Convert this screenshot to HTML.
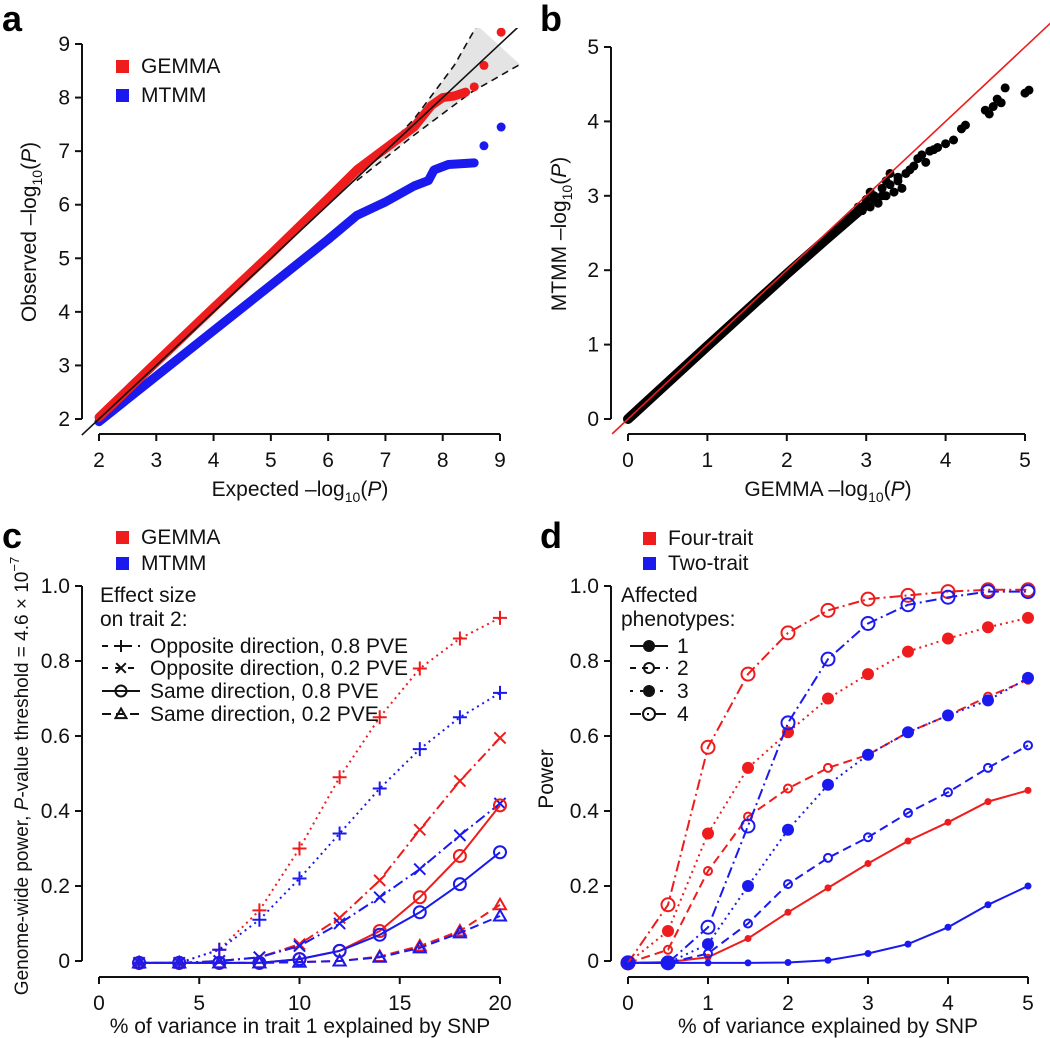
<!DOCTYPE html>
<html><head><meta charset="utf-8"><style>
html,body{margin:0;padding:0;background:#fff}
svg{display:block;font-family:"Liberation Sans",sans-serif}
</style></head><body>
<svg id="fig" width="1050" height="1038" viewBox="0 0 1050 1038" xmlns="http://www.w3.org/2000/svg">
<defs>
<clipPath id="clipA"><rect x="80" y="28" width="440" height="410"/></clipPath>
<clipPath id="clipB"><rect x="608" y="20" width="442" height="420"/></clipPath>
</defs>
<g font-weight="bold" font-size="36" fill="#000">
<text x="2" y="31">a</text>
<text x="540" y="31">b</text>
<text x="2" y="548">c</text>
<text x="540" y="548">d</text>
</g>
<g id="gA"></g>
<g id="gB"></g>
<g id="gC"></g>
<g id="gD"></g>
</svg>
<script>
// ---------- Panel A data ----------
const aGemmaX = [2,3,4,5,6,6.5,7,7.5,7.8,8.0,8.2,8.4];
const aGemmaY = [2.03,3.06,4.08,5.08,6.12,6.65,7.05,7.45,7.85,8.0,8.03,8.1];
const aGemmaTailX = [8.55,8.72,9.02];
const aGemmaTailY = [8.2,8.6,9.22];
const aMtmmX = [2,3,4,5,6,6.5,7,7.5,7.75,7.85,8.1,8.55];
const aMtmmY = [1.95,2.8,3.65,4.5,5.35,5.8,6.05,6.35,6.45,6.65,6.75,6.78];
const aMtmmTailX = [8.72,9.02];
const aMtmmTailY = [7.1,7.45];
const aTicksX = [2,3,4,5,6,7,8,9];
const aTicksY = [2,3,4,5,6,7,8,9];
const aCiUpperX = [6.5,7.5,8.2,8.6];
const aCiUpperY = [6.5,7.6,8.6,9.35];
const aCiLowerX = [6.5,7.5,8.5,9.35];
const aCiLowerY = [6.45,7.3,8.1,8.62];
// ---------- Panel B data ----------
const bLineX = [0,1,2,2.5,3];
const bLineY = [0,0.98,1.95,2.42,2.88];
const bPtsX = [2.9,2.95,3.0,3.05,3.1,3.15,3.2,3.25,3.3,3.35,3.4,3.45,3.5,3.6,3.7,3.75,3.8,3.9,4.0,4.1,4.2,4.25,4.5,4.55,4.6,4.65,4.7,4.75,5.0,5.05,3.55,3.65,3.85,3.1,3.25,3.4,3.05,3.2,3.3];
const bPtsY = [2.85,2.8,2.95,2.85,3.0,2.9,3.1,3.0,3.15,3.05,3.2,3.1,3.3,3.4,3.55,3.45,3.6,3.65,3.7,3.75,3.9,3.95,4.15,4.1,4.2,4.3,4.25,4.45,4.38,4.42,3.35,3.5,3.62,2.95,3.2,3.25,3.05,3.0,3.3];
const bTicks = [0,1,2,3,4,5];
// ---------- Panel C data ----------
const cX = [2,4,6,8,10,12,14,16,18,20];
const cRedPlus = [-0.005,-0.005,0.03,0.135,0.30,0.49,0.65,0.78,0.86,0.915];
const cBluePlus = [-0.005,-0.005,0.03,0.11,0.22,0.34,0.46,0.565,0.65,0.715];
const cRedCross = [-0.005,-0.005,0,0.01,0.045,0.115,0.215,0.35,0.48,0.595];
const cBlueCross = [-0.005,-0.005,0,0.01,0.04,0.10,0.17,0.245,0.335,0.42];
const cRedCircle = [-0.005,-0.005,-0.005,-0.005,0.005,0.027,0.08,0.17,0.28,0.415];
const cBlueCircle = [-0.005,-0.005,-0.005,-0.005,0.005,0.027,0.07,0.13,0.205,0.29];
const cRedTri = [-0.005,-0.005,-0.005,-0.005,-0.003,0,0.012,0.04,0.08,0.15];
const cBlueTri = [-0.005,-0.005,-0.005,-0.005,-0.003,0,0.01,0.035,0.075,0.12];
const cTicksX = [0,5,10,15,20];
const cTicksY = [0,0.2,0.4,0.6,0.8,1.0];
const cTickLabelsY = ['0','0.2','0.4','0.6','0.8','1.0'];
// ---------- Panel D data ----------
const dX = [0,0.5,1,1.5,2,2.5,3,3.5,4,4.5,5];
const dRed1 = [-0.005,-0.003,0.01,0.06,0.13,0.195,0.26,0.32,0.37,0.425,0.455];
const dBlue1 = [-0.005,-0.005,-0.005,-0.005,-0.004,0.002,0.02,0.045,0.09,0.15,0.2];
const dRed2 = [-0.005,0.03,0.24,0.385,0.46,0.515,0.55,0.61,0.655,0.705,0.75];
const dBlue2 = [-0.005,-0.005,0.02,0.10,0.205,0.275,0.33,0.395,0.45,0.515,0.575];
const dRed3 = [-0.005,0.08,0.34,0.515,0.61,0.70,0.765,0.825,0.86,0.89,0.915];
const dBlue3 = [-0.005,-0.005,0.045,0.20,0.35,0.47,0.55,0.61,0.655,0.695,0.755];
const dRed4 = [-0.005,0.15,0.57,0.765,0.875,0.935,0.965,0.975,0.985,0.99,0.99];
const dBlue4 = [-0.005,-0.005,0.09,0.36,0.635,0.805,0.90,0.95,0.97,0.985,0.985];
const dTicksX = [0,1,2,3,4,5];

const NS = 'http://www.w3.org/2000/svg';
const RED = '#ee1c1c', BLUE = '#1a1aee';
function mk(parent, tag, attrs) {
  const e = document.createElementNS(NS, tag);
  for (const k in attrs) e.setAttribute(k, attrs[k]);
  parent.appendChild(e);
  return e;
}
function lin(d0, d1, r0, r1) { return v => r0 + (v - d0) * (r1 - r0) / (d1 - d0); }
function pathFrom(xs, ys, sx, sy) {
  return xs.map((x, i) => (i ? 'L' : 'M') + sx(x).toFixed(1) + ',' + sy(ys[i]).toFixed(1)).join(' ');
}
function txt(parent, x, y, s, anchor, size) {
  const t = mk(parent, 'text', {x: x, y: y, 'font-size': size || 20, 'text-anchor': anchor || 'start', fill: '#111'});
  t.textContent = s;
  return t;
}
function axes(g, sx, sy, xTicks, yTicks, yLabels, xAxisY, yAxisX, xr, yr) {
  const ax = mk(g, 'g', {stroke: '#111', 'stroke-width': 2, fill: 'none'});
  
  
  mk(ax, 'line', {x1: sx(xr[0]), y1: xAxisY, x2: sx(xr[1]), y2: xAxisY});
  mk(ax, 'line', {x1: yAxisX, y1: sy(yr[0]), x2: yAxisX, y2: sy(yr[1])});
  xTicks.forEach(v => {
    mk(ax, 'line', {x1: sx(v), y1: xAxisY, x2: sx(v), y2: xAxisY + 7});
    const t = txt(g, sx(v), xAxisY + 33, String(v), 'middle', 21);
    
    
  });
  yTicks.forEach((v, i) => {
    mk(ax, 'line', {x1: yAxisX, y1: sy(v), x2: yAxisX - 7, y2: sy(v)});
    const t = txt(g, yAxisX - 12, sy(v) + 7, yLabels ? yLabels[i] : String(v), 'end', 21);
    
    
  });
}
function rotTitle(g, x, y, build, size) {
  const t = mk(g, 'text', {transform: 'translate(' + x + ',' + y + ') rotate(-90)', 'text-anchor': 'middle', 'font-size': size || 21, fill: '#111'});
  build(t);
  return t;
}
function span(t, s, attrs) { const e = mk(t, 'tspan', attrs || {}); e.textContent = s; return e; }
function logTitle(t, prefix) {
  span(t, prefix + '\u2013log');
  span(t, '10', {'font-size': 14, dy: 6});
  span(t, '(', {dy: -6});
  span(t, 'P', {'font-style': 'italic'});
  span(t, ')');
}
function legendSquare(g, x, y, color, label) {
  mk(g, 'rect', {x: x, y: y - 13, width: 13, height: 13, fill: color});
  txt(g, x + 25, y, label, 'start', 21);
}

// ================= Panel A =================
(function () {
  const g = document.getElementById('gA');
  const sx = lin(2, 9, 99, 500), sy = lin(2, 9, 419, 44);
  const clip = mk(g, 'g', {'clip-path': 'url(#clipA)'});
  const band = mk(clip, 'path', {d: pathFrom(aCiUpperX.concat(aCiLowerX.slice().reverse()), aCiUpperY.concat(aCiLowerY.slice().reverse()), sx, sy) + ' L' + sx(9.35) + ',' + sy(9.35) + ' Z', fill: '#e4e4e4', stroke: 'none'});
  
  
  [[aCiUpperX, aCiUpperY], [aCiLowerX, aCiLowerY]].forEach(p => {
    const l = mk(clip, 'path', {d: pathFrom(p[0], p[1], sx, sy), fill: 'none', stroke: '#111', 'stroke-width': 1.6, 'stroke-dasharray': '7,5'});
    
    
  });
  const blue = mk(clip, 'path', {d: pathFrom(aMtmmX, aMtmmY, sx, sy), fill: 'none', stroke: BLUE, 'stroke-width': 9, 'stroke-linecap': 'round', 'stroke-linejoin': 'round'});
  
  
  aMtmmTailX.forEach((x, i) => {
    const c = mk(clip, 'circle', {cx: sx(x), cy: sy(aMtmmTailY[i]), r: 4.5, fill: BLUE});
    
    
  });
  const red = mk(clip, 'path', {d: pathFrom(aGemmaX, aGemmaY, sx, sy), fill: 'none', stroke: RED, 'stroke-width': 9, 'stroke-linecap': 'round', 'stroke-linejoin': 'round'});
  
  
  aGemmaTailX.forEach((x, i) => {
    const c = mk(clip, 'circle', {cx: sx(x), cy: sy(aGemmaTailY[i]), r: 4.5, fill: RED});
    
    
  });
  const diag = mk(clip, 'line', {x1: sx(1.7), y1: sy(1.7), x2: sx(9.5), y2: sy(9.5), stroke: '#111', 'stroke-width': 1.6});
  
  
  axes(g, sx, sy, aTicksX, aTicksY, null, 434, 82, [2, 9], [2, 9]);
  const lg = mk(g, 'g', {});
  
  
  legendSquare(lg, 116, 73, RED, 'GEMMA');
  legendSquare(lg, 116, 102, BLUE, 'MTMM');
  const xt = mk(g, 'text', {x: 300, y: 496, 'text-anchor': 'middle', 'font-size': 21, fill: '#111'});
  logTitle(xt, 'Expected ');
  
  
  const yt = rotTitle(g, 36, 232, t => logTitle(t, 'Observed '));
  
  
})();

// ================= Panel B =================
(function () {
  const g = document.getElementById('gB');
  const sx = lin(0, 5, 628, 1025), sy = lin(0, 5, 419, 47);
  const clip = mk(g, 'g', {'clip-path': 'url(#clipB)'});
  const band = mk(clip, 'path', {d: pathFrom(bLineX, bLineY, sx, sy), fill: 'none', stroke: '#000', 'stroke-width': 10, 'stroke-linecap': 'round', 'stroke-linejoin': 'round'});
  
  
  bPtsX.forEach((x, i) => {
    const c = mk(clip, 'circle', {cx: sx(x), cy: sy(bPtsY[i]), r: 4.5, fill: '#000'});
    
    
  });
  const l = mk(clip, 'line', {x1: sx(-0.2), y1: sy(-0.2), x2: sx(5.4), y2: sy(5.4), stroke: RED, 'stroke-width': 1.6});
  
  
  axes(g, sx, sy, bTicks, bTicks, null, 434, 611, [0, 5], [0, 5]);
  const xt = mk(g, 'text', {x: 828, y: 496, 'text-anchor': 'middle', 'font-size': 21, fill: '#111'});
  logTitle(xt, 'GEMMA ');
  
  
  const yt = rotTitle(g, 566, 234, t => logTitle(t, 'MTMM '));
  
  
})();

// ---------- marker drawing ----------
function marker(g, type, x, y, color, size) {
  const s = size;
  if (type === 'plus') {
    mk(g, 'path', {d: `M${x - s},${y}H${x + s}M${x},${y - s}V${y + s}`, stroke: color, 'stroke-width': 2, fill: 'none'});
  } else if (type === 'cross') {
    const k = s * 0.8;
    mk(g, 'path', {d: `M${x - k},${y - k}L${x + k},${y + k}M${x - k},${y + k}L${x + k},${y - k}`, stroke: color, 'stroke-width': 2, fill: 'none'});
  } else if (type === 'circle') {
    mk(g, 'circle', {cx: x, cy: y, r: s, stroke: color, 'stroke-width': 2, fill: 'none'});
  } else if (type === 'tri') {
    mk(g, 'path', {d: `M${x},${y - s}L${x + s},${y + s * 0.75}L${x - s},${y + s * 0.75}Z`, stroke: color, 'stroke-width': 2, fill: 'none'});
  } else if (type === 'dot') {
    mk(g, 'circle', {cx: x, cy: y, r: s, fill: color});
  }
}
function series(g, name, xs, ys, sx, sy, color, dash, mtype, msize) {
  const sg = mk(g, 'g', {});
  
  
  mk(sg, 'path', {d: pathFrom(xs, ys, sx, sy), fill: 'none', stroke: color, 'stroke-width': 2, 'stroke-dasharray': dash});
  xs.forEach((x, i) => marker(sg, mtype, sx(x), sy(ys[i]), color, msize));
}
const DOT = '2,4', DASH = '9,5', DASHDOT = '11,4,2,4', SOLID = 'none';
function legendLine(g, x, y, dash, mtype, msize, label, tx) {
  const lg = mk(g, 'g', {});
  
  
  mk(lg, 'line', {x1: x, y1: y, x2: x + 38, y2: y, stroke: '#111', 'stroke-width': 2, 'stroke-dasharray': dash});
  marker(lg, mtype, x + 19, y, '#111', msize);
  txt(lg, tx, y + 7, label, 'start', 21);
}

// ================= Panel C =================
(function () {
  const g = document.getElementById('gC');
  const sx = lin(0, 20, 99, 500), sy = lin(0, 1, 961, 586);
  axes(g, sx, sy, cTicksX, cTicksY, cTickLabelsY, 977, 82, [0, 20], [0, 1]);
  series(g, 'series-red-plus', cX, cRedPlus, sx, sy, RED, DOT, 'plus', 7);
  series(g, 'series-blue-plus', cX, cBluePlus, sx, sy, BLUE, DOT, 'plus', 7);
  series(g, 'series-red-cross', cX, cRedCross, sx, sy, RED, DASHDOT, 'cross', 7);
  series(g, 'series-blue-cross', cX, cBlueCross, sx, sy, BLUE, DASHDOT, 'cross', 7);
  series(g, 'series-red-circle', cX, cRedCircle, sx, sy, RED, SOLID, 'circle', 6);
  series(g, 'series-blue-circle', cX, cBlueCircle, sx, sy, BLUE, SOLID, 'circle', 6);
  series(g, 'series-red-triangle', cX, cRedTri, sx, sy, RED, DASH, 'tri', 6);
  series(g, 'series-blue-triangle', cX, cBlueTri, sx, sy, BLUE, DASH, 'tri', 6);
  const lg = mk(g, 'g', {});
  
  
  legendSquare(lg, 116, 544, RED, 'GEMMA');
  legendSquare(lg, 116, 570, BLUE, 'MTMM');
  txt(lg, 100, 602, 'Effect size', 'start', 21);
  txt(lg, 100, 626, 'on trait 2:', 'start', 21);
  legendLine(lg, 102, 646, '6,6', 'plus', 6, 'Opposite direction, 0.8 PVE', 150);
  legendLine(lg, 102, 668, '6,7', 'cross', 6, 'Opposite direction, 0.2 PVE', 150);
  legendLine(lg, 102, 691, SOLID, 'circle', 5.5, 'Same direction, 0.8 PVE', 150);
  legendLine(lg, 102, 714, '9,5', 'tri', 5.5, 'Same direction, 0.2 PVE', 150);
  const xt = txt(g, 300, 1033, '% of variance in trait 1 explained by SNP', 'middle', 21);
  
  
  const yt = rotTitle(g, 28, 776, t => {
    span(t, 'Genome-wide power, ');
    span(t, 'P', {'font-style': 'italic'});
    span(t, '-value threshold = 4.6 \u00d7 10');
    span(t, '\u22127', {'font-size': 13, dy: -9});
  }, 19);
  
  
})();

// ================= Panel D =================
(function () {
  const g = document.getElementById('gD');
  const sx = lin(0, 5, 628, 1028), sy = lin(0, 1, 961, 586);
  axes(g, sx, sy, dTicksX, cTicksY, cTickLabelsY, 977, 611, [0, 5], [0, 1]);
  series(g, 'series-red-1', dX, dRed1, sx, sy, RED, SOLID, 'dot', 3.5);
  series(g, 'series-blue-1', dX, dBlue1, sx, sy, BLUE, SOLID, 'dot', 3.5);
  series(g, 'series-red-2', dX, dRed2, sx, sy, RED, DASH, 'circle', 4);
  series(g, 'series-blue-2', dX, dBlue2, sx, sy, BLUE, DASH, 'circle', 4);
  series(g, 'series-red-3', dX, dRed3, sx, sy, RED, DOT, 'dot', 6);
  series(g, 'series-blue-3', dX, dBlue3, sx, sy, BLUE, DOT, 'dot', 6);
  series(g, 'series-red-4', dX, dRed4, sx, sy, RED, DASHDOT, 'circle', 6.5);
  series(g, 'series-blue-4', dX, dBlue4, sx, sy, BLUE, DASHDOT, 'circle', 6.5);
  const lg = mk(g, 'g', {});
  
  
  legendSquare(lg, 643, 545, RED, 'Four-trait');
  legendSquare(lg, 643, 570, BLUE, 'Two-trait');
  txt(lg, 621, 602, 'Affected', 'start', 21);
  txt(lg, 621, 626, 'phenotypes:', 'start', 21);
  legendLine(lg, 630, 646, SOLID, 'dot', 6, '1', 677);
  legendLine(lg, 630, 668, '6,6', 'circle', 5, '2', 677);
  legendLine(lg, 630, 691, '3,7', 'dot', 6, '3', 677);
  legendLine(lg, 630, 714, '11,6,2,6', 'circle', 6, '4', 677);
  const xt = txt(g, 828, 1033, '% of variance explained by SNP', 'middle', 21);
  
  
  const yt = rotTitle(g, 553, 779, t => span(t, 'Power'));
  
  
})();
</script>
</body></html>
